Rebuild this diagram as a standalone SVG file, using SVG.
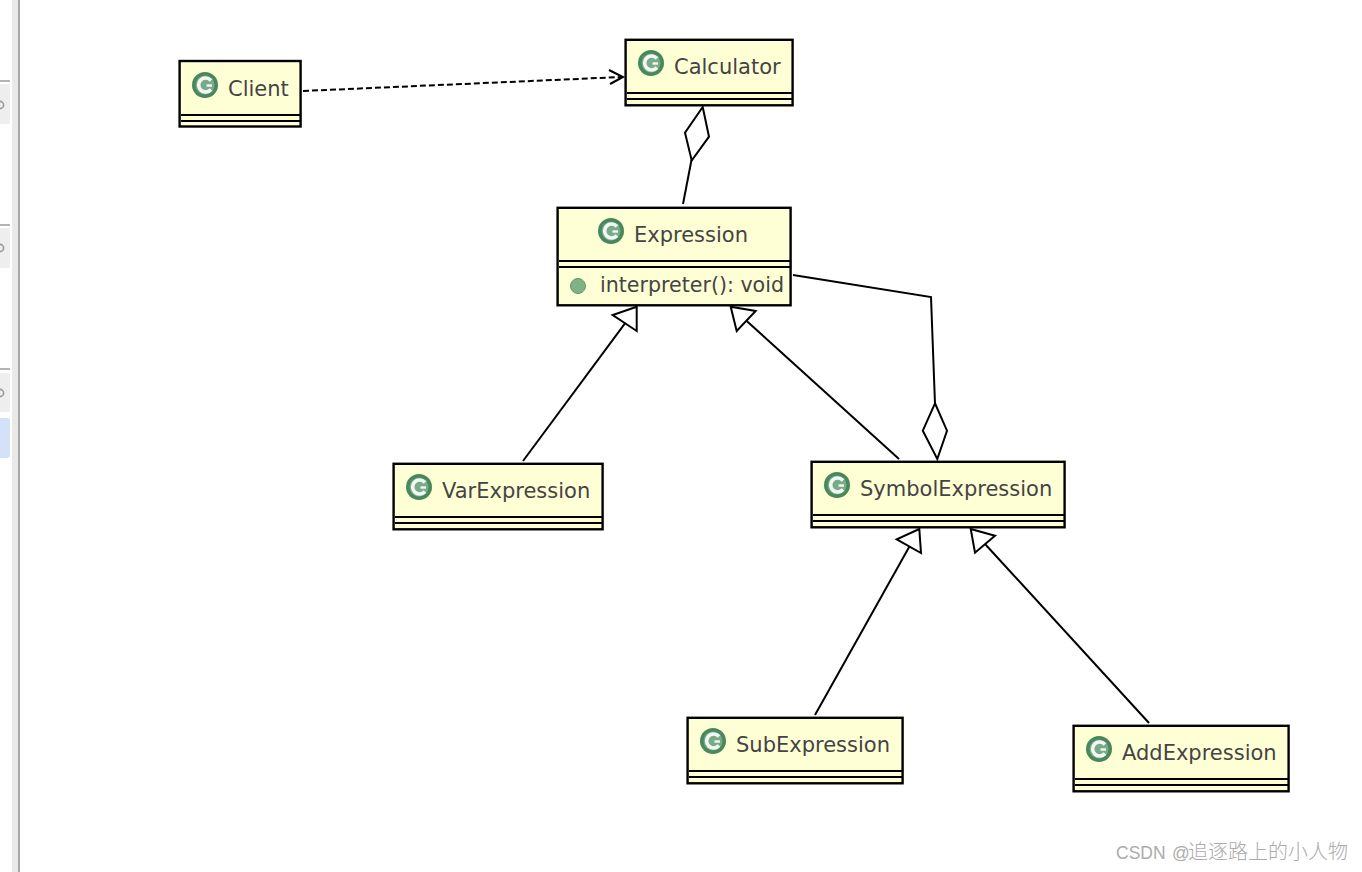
<svg xmlns="http://www.w3.org/2000/svg" width="1362" height="872" viewBox="0 0 1362 872">
<style>
.box{fill:#ffffd5;stroke:#000;stroke-width:2.4}
.sep{stroke:#000;stroke-width:2;fill:none}
.lbl{font-family:"DejaVu Sans",sans-serif;font-size:21px;fill:#444444}
.ln{fill:none;stroke:#000;stroke-width:2}
.hd{fill:#fff;stroke:#000;stroke-width:2;stroke-linejoin:miter}
.pan{fill:#eeeeee}
.panl{fill:#b4b4b4}
.knob{fill:none;stroke:#9a9a9a;stroke-width:1.6}
</style>
<defs>
<filter id="soft" x="-20%" y="-20%" width="140%" height="140%"><feGaussianBlur stdDeviation="0.6"/></filter>
<g id="cicon" filter="url(#soft)">
<circle r="13" fill="#4a875c"/>
<circle r="9.5" fill="#79ab88"/>
<path d="M6 -4.5A7 7 0 1 0 6 4.5" fill="none" stroke="#f2f7f2" stroke-width="3.6"/>
<path d="M1.5 0.5H7" stroke="#f2f7f2" stroke-width="2.4"/>
</g>
</defs>
<rect width="1362" height="872" fill="#fff"/>
<g id="ui-edge">
<rect x="12" y="0" width="6" height="872" fill="#e9e9e9"/>
<rect x="18" y="0" width="2" height="872" fill="#a8a8a8"/>
<rect x="0" y="80" width="10" height="2" class="panl"/><rect x="0" y="84" width="10" height="40" class="pan"/><circle class="knob" cx="0" cy="105" r="3.6"/>
<rect x="0" y="224" width="10" height="2" class="panl"/><rect x="0" y="228" width="10" height="40" class="pan"/><circle class="knob" cx="0" cy="248" r="3.6"/>
<rect x="0" y="368" width="10" height="2" class="panl"/><rect x="0" y="373" width="10" height="39" class="pan"/><circle class="knob" cx="0" cy="393" r="3.6"/>
<rect x="-4" y="418" width="14" height="40" rx="3" fill="#d3e2f8"/>
</g>
<g id="connectors">
<path class="ln" d="M303 91L622 77" stroke-dasharray="6 3"/>
<path class="ln" d="M609 70L623 77L610 84"/>
<path class="ln" d="M683 204L691.5 160"/>
<path class="hd" d="M702.7 107L685 132.7L691.7 160.5L709 136.7Z"/>
<path class="ln" d="M793 275L931 297L935 404"/>
<path class="hd" d="M935 403.3L922.8 430.7L937.3 459L947 430.7Z"/>
<path class="ln" d="M523 461L625 323.3"/>
<path class="hd" d="M636.7 306.7L612.7 315L636.7 331Z"/>
<path class="ln" d="M899 459L746.7 321"/>
<path class="hd" d="M730.7 306.7L755.7 311L736.7 331Z"/>
<path class="ln" d="M815 715L909.3 546.7"/>
<path class="hd" d="M919.3 529L896.7 539.3L921 553Z"/>
<path class="ln" d="M1149 723L985 544"/>
<path class="hd" d="M970.7 529L995 535.7L975 552.7Z"/>
</g>
<g id="client">
<rect class="box" x="179.6" y="61" width="121" height="65.5"/>
<path class="sep" d="M181 115H300M181 121H300"/>
<use href="#cicon" x="205" y="85"/>
<text class="lbl" x="228" y="96">Client</text>
</g>
<g id="calculator">
<rect class="box" x="625.6" y="39.8" width="167" height="65.5"/>
<path class="sep" d="M627 93H792M627 99H792"/>
<use href="#cicon" x="651" y="63"/>
<text class="lbl" x="674" y="74">Calculator</text>
</g>
<g id="expression">
<rect class="box" x="557.6" y="207.8" width="233" height="97.5"/>
<path class="sep" d="M559 261H790M559 267H790"/>
<use href="#cicon" x="611" y="231"/>
<text class="lbl" x="634" y="242">Expression</text>
<circle cx="578" cy="286" r="7.5" fill="#7fb285" stroke="#5f9a70" stroke-width="1"/>
<text class="lbl" x="600" y="292" textLength="184" lengthAdjust="spacingAndGlyphs">interpreter(): void</text>
</g>
<g id="varexpression">
<rect class="box" x="393.6" y="463.8" width="209" height="65.5"/>
<path class="sep" d="M395 517H602M395 523H602"/>
<use href="#cicon" x="419" y="487"/>
<text class="lbl" x="442" y="498">VarExpression</text>
</g>
<g id="symbolexpression">
<rect class="box" x="811.6" y="461.8" width="253" height="65.5"/>
<path class="sep" d="M813 515H1064M813 521H1064"/>
<use href="#cicon" x="837" y="485"/>
<text class="lbl" x="860" y="496">SymbolExpression</text>
</g>
<g id="subexpression">
<rect class="box" x="687.6" y="717.8" width="215" height="65.5"/>
<path class="sep" d="M689 771H902M689 777H902"/>
<use href="#cicon" x="713" y="741"/>
<text class="lbl" x="736" y="752">SubExpression</text>
</g>
<g id="addexpression">
<rect class="box" x="1073.6" y="725.8" width="215" height="65.5"/>
<path class="sep" d="M1075 779H1288M1075 785H1288"/>
<use href="#cicon" x="1099" y="749"/>
<text class="lbl" x="1122" y="760">AddExpression</text>
</g>
<text y="859" font-family="'Liberation Sans','Noto Sans CJK SC',sans-serif" font-size="17.5" fill="#ababab"><tspan x="1116">CSDN</tspan><tspan x="1172">@</tspan><tspan x="1188" font-size="20" font-weight="300">追逐路上的小人物</tspan></text>
</svg>
